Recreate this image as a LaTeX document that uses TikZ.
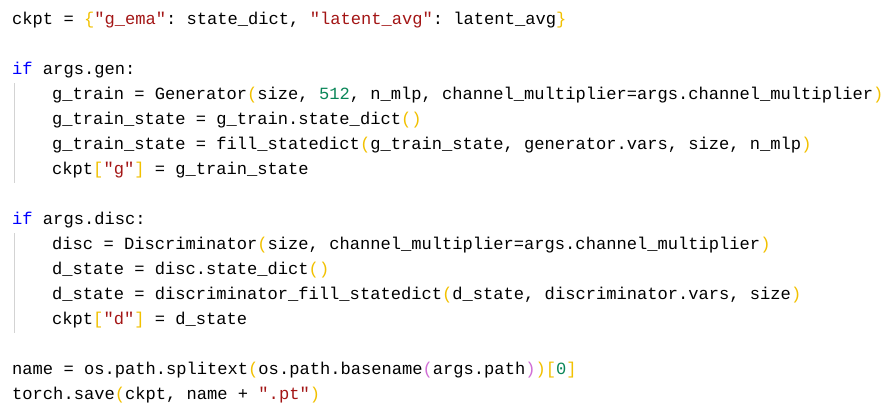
\documentclass[tikz,border=0pt]{standalone}
\usepackage{fontspec}
\setmonofont{Liberation Mono}
\definecolor{cstr}{HTML}{A31515}
\definecolor{cnum}{HTML}{098658}
\definecolor{ckw}{HTML}{0000FF}
\definecolor{cgold}{HTML}{F2C100}
\definecolor{cpur}{HTML}{D16FD6}
\definecolor{cguide}{HTML}{D3D3D3}
\newcommand\Cs[1]{\textcolor{cstr}{#1}}
\newcommand\Cn[1]{\textcolor{cnum}{#1}}
\newcommand\Ck[1]{\textcolor{ckw}{#1}}
\newcommand\Cy[1]{\textcolor{cgold}{#1}}
\newcommand\Cp[1]{\textcolor{cpur}{#1}}
\begin{document}
\begin{tikzpicture}[x=1pt,y=-1pt,
  code/.style={anchor=base west,inner sep=0pt,font=\ttfamily\fontsize{17.1}{25}\selectfont,text=black},
  guide/.style={draw=cguide,line width=1pt}]
\useasboundingbox (0,0) rectangle (893,410);
\fill[white] (0,0) rectangle (893,410);
\draw[guide] (14,83) -- (14,183);
\draw[guide] (14,233) -- (14,333);
\node[code] (l0) at (12,24) {ckpt = \Cy{\{}\Cs{"g\_ema"}: state\_dict, \Cs{"latent\_avg"}: latent\_avg\Cy{\}}};
\node[code] (l2) at (12,74) {\Ck{if} args.gen:};
\node[code] (l3) at (52,99) {g\_train = Generator\Cy{(}size, \Cn{512}, n\_mlp, channel\_multiplier=args.channel\_multiplier\Cy{)}};
\node[code] (l4) at (52,124) {g\_train\_state = g\_train.state\_dict\Cy{()}};
\node[code] (l5) at (52,149) {g\_train\_state = fill\_statedict\Cy{(}g\_train\_state, generator.vars, size, n\_mlp\Cy{)}};
\node[code] (l6) at (52,174) {ckpt\Cy{[}\Cs{"g"}\Cy{]} = g\_train\_state};
\node[code] (l8) at (12,224) {\Ck{if} args.disc:};
\node[code] (l9) at (52,249) {disc = Discriminator\Cy{(}size, channel\_multiplier=args.channel\_multiplier\Cy{)}};
\node[code] (l10) at (52,274) {d\_state = disc.state\_dict\Cy{()}};
\node[code] (l11) at (52,299) {d\_state = discriminator\_fill\_statedict\Cy{(}d\_state, discriminator.vars, size\Cy{)}};
\node[code] (l12) at (52,324) {ckpt\Cy{[}\Cs{"d"}\Cy{]} = d\_state};
\node[code] (l14) at (12,374) {name = os.path.splitext\Cy{(}os.path.basename\Cp{(}args.path\Cp{)}\Cy{)[}\Cn{0}\Cy{]}};
\node[code] (l15) at (12,399) {torch.save\Cy{(}ckpt, name + \Cs{".pt"}\Cy{)}};
\end{tikzpicture}
\end{document}
